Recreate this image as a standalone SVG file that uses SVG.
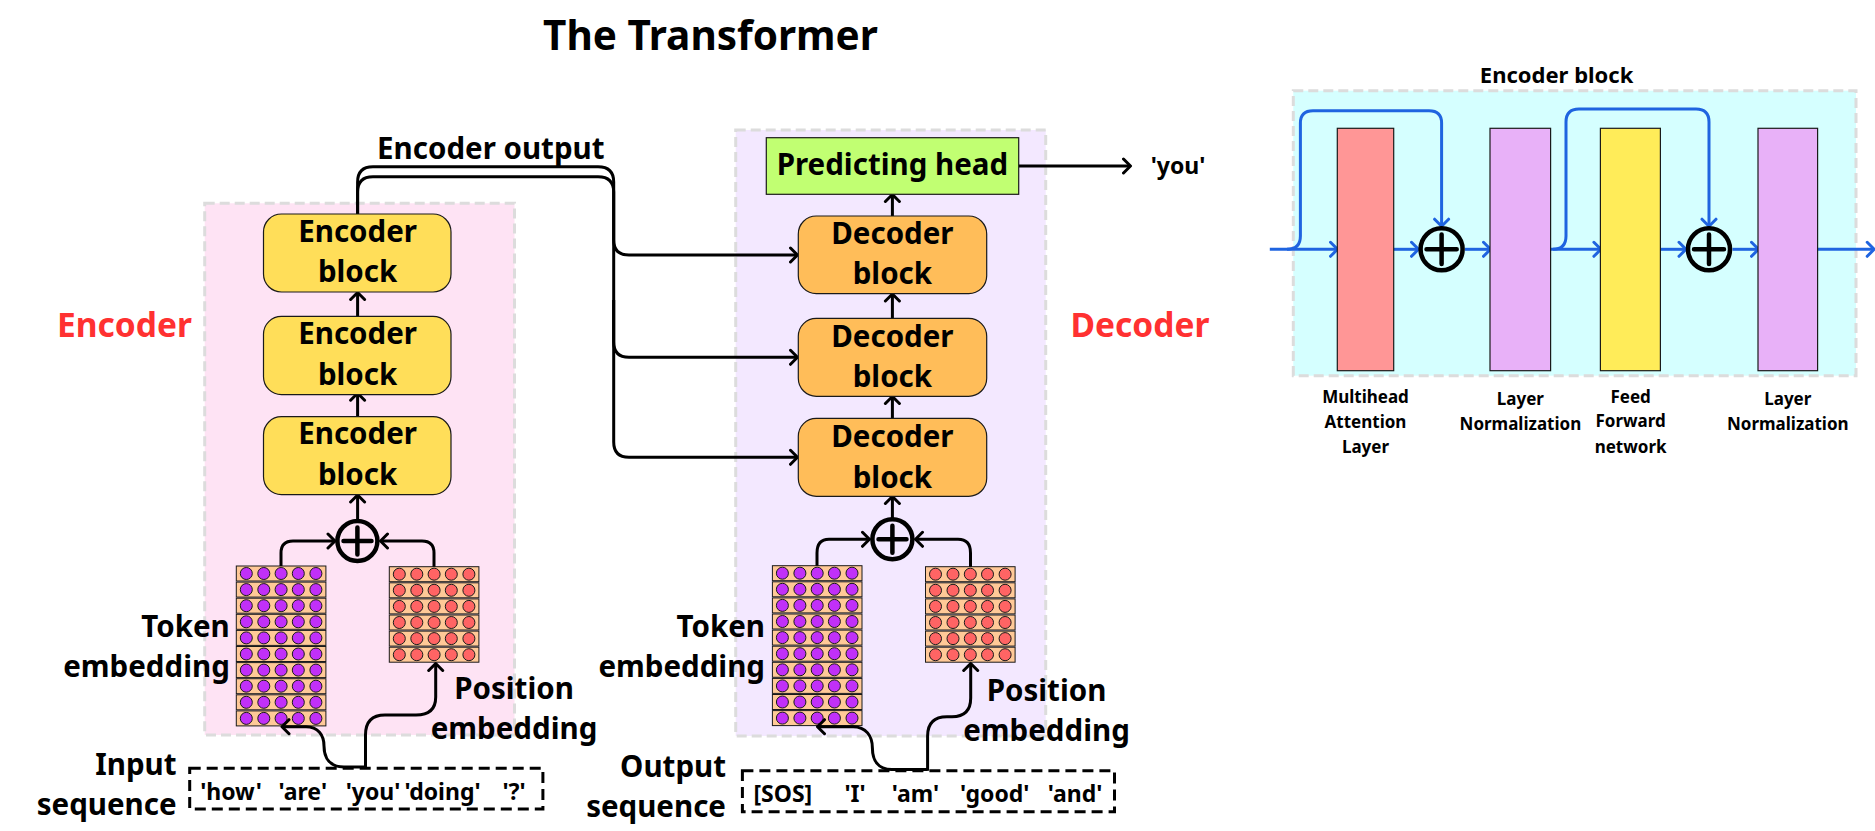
<svg xmlns="http://www.w3.org/2000/svg" width="1875" height="831" viewBox="0 0 1875 831">
<style>
text{font-family:"Noto Sans","Liberation Sans",sans-serif;font-weight:700;fill:#000}
.m{text-anchor:middle}.e{text-anchor:end}
.b{font-size:29.5px}.s{font-size:23px}.l{font-size:17px}
.region{stroke:#dcdcdc;stroke-width:3;stroke-dasharray:10 5}
.blk{stroke:#1a1a1a;stroke-width:1.2}
.seq{fill:none;stroke:#000;stroke-width:3;stroke-dasharray:11 6}
.c{fill:none;stroke:#000;stroke-width:3;stroke-linejoin:round;marker-end:url(#a)}
.u{fill:none;stroke:#1f64e0;stroke-width:3;marker-end:url(#au)}
.p{fill:none;stroke:#000;stroke-width:4.5}
.pl{stroke:#000;stroke-width:4.5;stroke-linecap:round;fill:none}
.r{fill:#ffc997;stroke:#1a1a1a;stroke-width:1}
.cp{fill:#c130f8;stroke:#1a1a1a;stroke-width:1}
.cr{fill:#ff6464;stroke:#1a1a1a;stroke-width:1}
.red{font-size:33.5px;fill:#ff3131}
</style>
<defs>
<marker id="a" markerUnits="userSpaceOnUse" markerWidth="16" markerHeight="18" refX="8.5" refY="9" orient="auto" viewBox="0 0 16 18"><path d="M2,2 L9,9 L2,16" fill="none" stroke="#000" stroke-width="3" stroke-linecap="round" stroke-linejoin="round"/></marker>
<marker id="au" markerUnits="userSpaceOnUse" markerWidth="16" markerHeight="18" refX="8.5" refY="9" orient="auto" viewBox="0 0 16 18"><path d="M2,2 L9,9 L2,16" fill="none" stroke="#1f64e0" stroke-width="3" stroke-linecap="round" stroke-linejoin="round"/></marker>
<g id="rp"><rect class="r" x="0" y="0" width="89.6" height="15"/><circle class="cp" cx="10" cy="7.5" r="6"/><circle class="cp" cx="27.5" cy="7.5" r="6"/><circle class="cp" cx="44.8" cy="7.5" r="6"/><circle class="cp" cx="62" cy="7.5" r="6"/><circle class="cp" cx="79.6" cy="7.5" r="6"/></g>
<g id="rr"><rect class="r" x="0" y="0" width="89.6" height="15"/><circle class="cr" cx="10" cy="7.5" r="6"/><circle class="cr" cx="27.5" cy="7.5" r="6"/><circle class="cr" cx="44.8" cy="7.5" r="6"/><circle class="cr" cx="62" cy="7.5" r="6"/><circle class="cr" cx="79.6" cy="7.5" r="6"/></g>
<g id="tok"><use href="#rp" y="0"/><use href="#rp" y="16.1"/><use href="#rp" y="32.2"/><use href="#rp" y="48.3"/><use href="#rp" y="64.4"/><use href="#rp" y="80.5"/><use href="#rp" y="96.6"/><use href="#rp" y="112.7"/><use href="#rp" y="128.8"/><use href="#rp" y="144.9"/></g>
<g id="pos"><use href="#rr" y="0"/><use href="#rr" y="16.1"/><use href="#rr" y="32.2"/><use href="#rr" y="48.3"/><use href="#rr" y="64.4"/><use href="#rr" y="80.5"/></g>
</defs>

<g id="title"><text class="m" x="710.5" y="50" style="font-size:40.5px">The Transformer</text></g>

<g id="encoder-region"><rect class="region" x="204.7" y="203.3" width="309.8" height="531.7" fill="#fee3f4"/></g>
<g id="decoder-region"><rect class="region" x="735.7" y="130" width="310" height="606" fill="#f3e8ff"/></g>
<g id="encoder-detail"><rect class="region" x="1293.3" y="90.7" width="562.7" height="285" fill="#d5ffff"/>
<text class="m" x="1556.6" y="82.7" style="font-size:22px">Encoder block</text></g>
<g id="encoder-label"><text class="red" x="57" y="337">Encoder</text></g>
<g id="decoder-label"><text class="red" x="1070.5" y="337">Decoder</text></g>

<g id="enc-token-embedding"><use href="#tok" x="236.3" y="566"/></g>
<g id="enc-position-embedding"><use href="#pos" x="389.3" y="566.7"/></g>
<g id="dec-token-embedding"><use href="#tok" x="772.4" y="565.7"/></g>
<g id="dec-position-embedding"><use href="#pos" x="925.5" y="566.7"/></g>

<g id="connectors">
<path class="c" d="M357.6 214V182Q357.6 166.7 373 166.7H598Q613.7 166.7 613.7 182V240Q613.7 255 629 255H797"/>
<path class="c" d="M357.6 214V192Q357.6 176.7 373 176.7H598Q613.7 176.7 613.7 192V342Q613.7 357.3 629 357.3H797"/>
<path class="c" d="M613.7 300V442Q613.7 457.3 629 457.3H797"/>
<path class="c" d="M357.6 416.7V393.7"/><path class="c" d="M357.6 316.3V293"/><path class="c" d="M357.6 519.5V495.5"/>
<path class="c" d="M281 566V553Q281 541 293 541H334.5"/>
<path class="c" d="M434 566.7V553Q434 541 422 541H381"/>
<path class="c" d="M365.5 768V735Q365.5 715 385 715H416Q435.7 715 435.7 697V664"/>
<path class="c" d="M365.5 767H344C330 767 324 758 324 746C324 735 318 726.7 306 726.7H282.5"/>
<path class="c" d="M892.4 518V497"/><path class="c" d="M892.4 418.3V397"/><path class="c" d="M892.4 216V195"/><path class="c" d="M892.4 318.3V294.5"/>
<path class="c" d="M817 565.7V553Q817 539.3 829 539.3H869"/>
<path class="c" d="M970.5 566.7V553Q970.5 539.3 958 539.3H916"/>
<path class="c" d="M927.6 770.7V736Q927.6 716.7 947 716.7H952Q970.7 716.7 970.7 698V664"/>
<path class="c" d="M927.6 769.5H892C878 769.5 872.4 760 872.4 748C872.4 736 866 726.7 853 726.7H818"/>
<path class="c" d="M1018.7 166H1130"/>
<path class="u" d="M1269.8 249.3H1337"/>
<path class="u" d="M1287 249.3Q1300.4 249.3 1300.4 236V123Q1300.4 110.7 1313 110.7H1429Q1441.6 110.7 1441.6 123V225.7"/>
<path class="u" d="M1393.7 249.3H1418"/><path class="u" d="M1465 249.3H1490"/><path class="u" d="M1550.6 249.3H1600.4"/>
<path class="u" d="M1553 249.3Q1566 249.3 1566 236V122Q1566 109 1579 109H1696Q1709 109 1709 122V225.7"/>
<path class="u" d="M1660.4 249.3H1685.5"/><path class="u" d="M1732.5 249.3H1758"/><path class="u" d="M1817.6 249.3H1873.7"/>
</g>

<g id="encoder-block-1"><rect class="blk" x="263.5" y="214" width="187.5" height="78" rx="18" fill="#ffde59"/><text class="m b" x="357.6" y="241.7">Encoder</text><text class="m b" x="357.6" y="282.3">block</text></g>
<g id="encoder-block-2"><rect class="blk" x="263.5" y="316.3" width="187.5" height="78.4" rx="18" fill="#ffde59"/><text class="m b" x="357.6" y="344.3">Encoder</text><text class="m b" x="357.6" y="385">block</text></g>
<g id="encoder-block-3"><rect class="blk" x="263.5" y="416.7" width="187.5" height="78" rx="18" fill="#ffde59"/><text class="m b" x="357.6" y="444.3">Encoder</text><text class="m b" x="357.6" y="485">block</text></g>
<g id="decoder-block-1"><rect class="blk" x="798.3" y="216" width="188.4" height="77.7" rx="18" fill="#ffbd59"/><text class="m b" x="892.4" y="244">Decoder</text><text class="m b" x="892.4" y="284.3">block</text></g>
<g id="decoder-block-2"><rect class="blk" x="798.3" y="318.3" width="188.4" height="78" rx="18" fill="#ffbd59"/><text class="m b" x="892.4" y="346.7">Decoder</text><text class="m b" x="892.4" y="386.7">block</text></g>
<g id="decoder-block-3"><rect class="blk" x="798.3" y="418.3" width="188.4" height="78" rx="18" fill="#ffbd59"/><text class="m b" x="892.4" y="446.7">Decoder</text><text class="m b" x="892.4" y="487.7">block</text></g>
<g id="predicting-head"><rect class="blk" x="766.3" y="137.7" width="252.4" height="56.6" fill="#c1ff72"/><text class="m b" x="892.4" y="175">Predicting head</text></g>
<g id="encoder-output-label"><text class="m b" x="490.8" y="158.5">Encoder output</text></g>
<g id="output-word"><text class="m s" x="1178" y="174">'you'</text></g>

<g id="enc-plus"><circle class="p" cx="357.4" cy="541" r="20"/><path class="pl" d="M343.5 541H371.5M357.4 527.5V554.5"/></g>
<g id="dec-plus"><circle class="p" cx="892.4" cy="539.3" r="20"/><path class="pl" d="M878.5 539.3H906.5M892.4 525.8V552.8"/></g>

<g id="enc-labels">
<text class="e b" x="229.8" y="637">Token</text><text class="e b" x="229.8" y="677">embedding</text>
<text class="m b" x="514" y="699">Position</text><text class="m b" x="514" y="739">embedding</text>
<text class="e b" x="176.6" y="775">Input</text><text class="e b" x="176.6" y="815">sequence</text>
</g>
<g id="dec-labels">
<text class="e b" x="765" y="637">Token</text><text class="e b" x="765" y="677">embedding</text>
<text class="m b" x="1046.5" y="701">Position</text><text class="m b" x="1046.5" y="741">embedding</text>
<text class="e b" x="726" y="777">Output</text><text class="e b" x="726" y="817">sequence</text>
</g>

<g id="input-sequence"><rect class="seq" x="189.7" y="768.3" width="353.2" height="40.7"/>
<text class="m s" x="231" y="800">'how'</text><text class="m s" x="302.8" y="800">'are'</text><text class="m s" x="373" y="800">'you'</text><text class="m s" x="442.5" y="800">'doing'</text><text class="m s" x="514" y="800">'?'</text></g>
<g id="output-sequence"><rect class="seq" x="742.4" y="770.7" width="372.1" height="41"/>
<text class="m s" x="782.8" y="802">[SOS]</text><text class="m s" x="855" y="802">'I'</text><text class="m s" x="915.5" y="802">'am'</text><text class="m s" x="994.8" y="802">'good'</text><text class="m s" x="1075" y="802">'and'</text></g>

<g id="multihead"><rect class="blk" x="1337.3" y="128.3" width="56.4" height="242.4" fill="#ff9696"/><text class="m l" x="1365.5" y="403.3">Multihead</text><text class="m l" x="1365.5" y="428.3">Attention</text><text class="m l" x="1365.5" y="453.3">Layer</text></g>
<g id="norm-1"><rect class="blk" x="1490" y="128.3" width="60.6" height="242.4" fill="#e8b1f8"/><text class="m l" x="1520.4" y="405">Layer</text><text class="m l" x="1520.4" y="430">Normalization</text></g>
<g id="feed-forward"><rect class="blk" x="1600.4" y="128.3" width="60" height="242.4" fill="#ffec59"/><text class="m l" x="1630.6" y="403.3">Feed</text><text class="m l" x="1630.6" y="427.3">Forward</text><text class="m l" x="1630.6" y="452.7">network</text></g>
<g id="norm-2"><rect class="blk" x="1758" y="128.3" width="59.6" height="242.4" fill="#e8b1f8"/><text class="m l" x="1787.8" y="405">Layer</text><text class="m l" x="1787.8" y="430">Normalization</text></g>
<g id="detail-plus-1"><circle class="p" cx="1441.6" cy="249.3" r="21"/><path class="pl" d="M1426.5 249.3H1456.7M1441.6 234.5V264"/></g>
<g id="detail-plus-2"><circle class="p" cx="1709" cy="249.3" r="21"/><path class="pl" d="M1694 249.3H1724M1709 234.5V264"/></g>
</svg>
